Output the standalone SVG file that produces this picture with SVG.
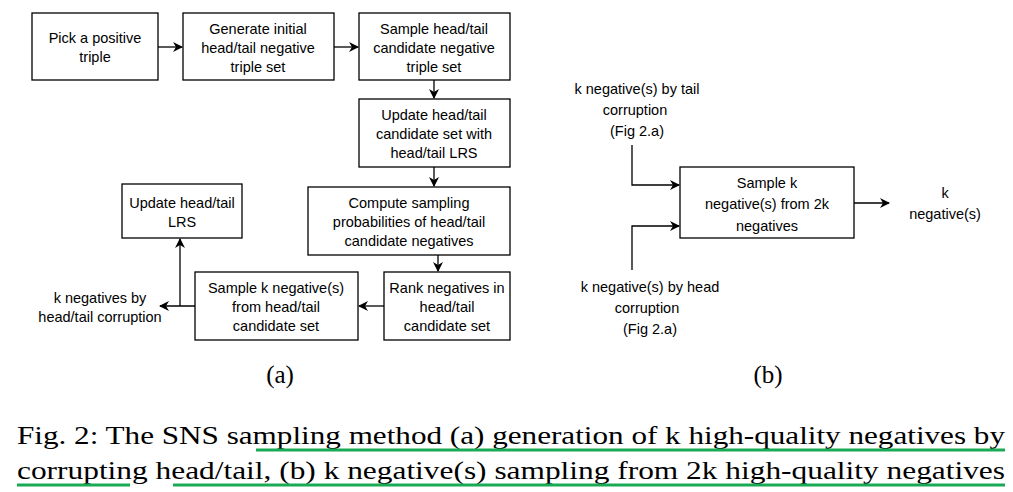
<svg xmlns="http://www.w3.org/2000/svg" width="1013" height="492" viewBox="0 0 1013 492">
<defs>
<style>
.b{fill:#fff;stroke:#000;stroke-width:1.3}
.t{font-family:"Liberation Sans",Arial,sans-serif;font-size:14.5px;text-anchor:middle;fill:#000}
.c{fill:none;stroke:#000;stroke-width:1.3}
.cap{font-family:"Liberation Serif","Times New Roman",serif;font-size:25px;fill:#000}
.u{stroke:#1aaa55;stroke-width:3}
</style>
<marker id="a" markerWidth="10" markerHeight="10" refX="9" refY="5" orient="auto" markerUnits="userSpaceOnUse"><path d="M0,0 L10,5 L0,10 L3,5 z" fill="#000"/></marker>
</defs>
<rect width="1013" height="492" fill="#fff"/>
<g id="connectors">
<path class="c" d="M158,47 H182" marker-end="url(#a)"/>
<path class="c" d="M334,47 H358" marker-end="url(#a)"/>
<path class="c" d="M434,80 V98" marker-end="url(#a)"/>
<path class="c" d="M434,167 V186" marker-end="url(#a)"/>
<path class="c" d="M438,255 V271" marker-end="url(#a)"/>
<path class="c" d="M384,306 H359" marker-end="url(#a)"/>
<path class="c" d="M195,306 H160" marker-end="url(#a)"/>
<path class="c" d="M180,306 V239" marker-end="url(#a)"/>
<path class="c" d="M632,145 V185 H679" marker-end="url(#a)"/>
<path class="c" d="M632,270 V226 H679" marker-end="url(#a)"/>
<path class="c" d="M854,203 H889" marker-end="url(#a)"/>
</g>
<g id="n1"><rect class="b" x="32" y="13" width="126" height="67"/><text class="t" x="95" y="43">Pick a positive</text><text class="t" x="95" y="62">triple</text></g>
<g id="n2"><rect class="b" x="183" y="13" width="151" height="67"/><text class="t" x="258" y="34">Generate initial</text><text class="t" x="258" y="53">head/tail negative</text><text class="t" x="258" y="72">triple set</text></g>
<g id="n3"><rect class="b" x="359" y="13" width="151" height="67"/><text class="t" x="434" y="34">Sample head/tail</text><text class="t" x="434" y="53">candidate negative</text><text class="t" x="434" y="72">triple set</text></g>
<g id="n4"><rect class="b" x="359" y="99" width="151" height="68"/><text class="t" x="434" y="120">Update head/tail</text><text class="t" x="434" y="139">candidate set with</text><text class="t" x="434" y="158">head/tail LRS</text></g>
<g id="n5"><rect class="b" x="308" y="187" width="202" height="68"/><text class="t" x="409" y="208">Compute sampling</text><text class="t" x="409" y="227">probabilities of head/tail</text><text class="t" x="409" y="246">candidate negatives</text></g>
<g id="n6"><rect class="b" x="122" y="184" width="120" height="54"/><text class="t" x="182" y="208">Update head/tail</text><text class="t" x="182" y="227">LRS</text></g>
<g id="n7"><rect class="b" x="195" y="272" width="163" height="68"/><text class="t" x="276" y="293">Sample k negative(s)</text><text class="t" x="276" y="312">from head/tail</text><text class="t" x="276" y="331">candidate set</text></g>
<g id="n8"><rect class="b" x="384" y="272" width="126" height="68"/><text class="t" x="447" y="293">Rank negatives in</text><text class="t" x="447" y="312">head/tail</text><text class="t" x="447" y="331">candidate set</text></g>
<g id="l1"><text class="t" x="100" y="303">k negatives by</text><text class="t" x="100" y="322">head/tail corruption</text></g>
<g id="l2"><text class="t" x="637" y="94">k negative(s) by tail</text><text class="t" x="635" y="115">corruption</text><text class="t" x="637" y="136">(Fig 2.a)</text></g>
<g id="n9"><rect class="b" x="680" y="167" width="174" height="71"/><text class="t" x="767" y="188">Sample k</text><text class="t" x="767" y="209">negative(s) from 2k</text><text class="t" x="767" y="231">negatives</text></g>
<g id="l3"><text class="t" x="945" y="198">k</text><text class="t" x="945" y="219">negative(s)</text></g>
<g id="l4"><text class="t" x="650" y="292">k negative(s) by head</text><text class="t" x="647" y="313">corruption</text><text class="t" x="650" y="334">(Fig 2.a)</text></g>
<text class="cap" x="280" y="383" text-anchor="middle" font-size="22">(a)</text>
<text class="cap" x="768" y="383" text-anchor="middle" font-size="22">(b)</text>
<text class="cap" x="17" y="444" textLength="988" lengthAdjust="spacingAndGlyphs">Fig. 2: The SNS sampling method (a) generation of k high-quality negatives by</text>
<text class="cap" x="17" y="479" textLength="988" lengthAdjust="spacingAndGlyphs">corrupting head/tail, (b) k negative(s) sampling from 2k high-quality negatives</text>
<line class="u" x1="256" y1="450" x2="1005" y2="450"/>
<line class="u" x1="17" y1="485" x2="130" y2="485"/>
<line class="u" x1="173" y1="485" x2="1005" y2="485"/>
</svg>
